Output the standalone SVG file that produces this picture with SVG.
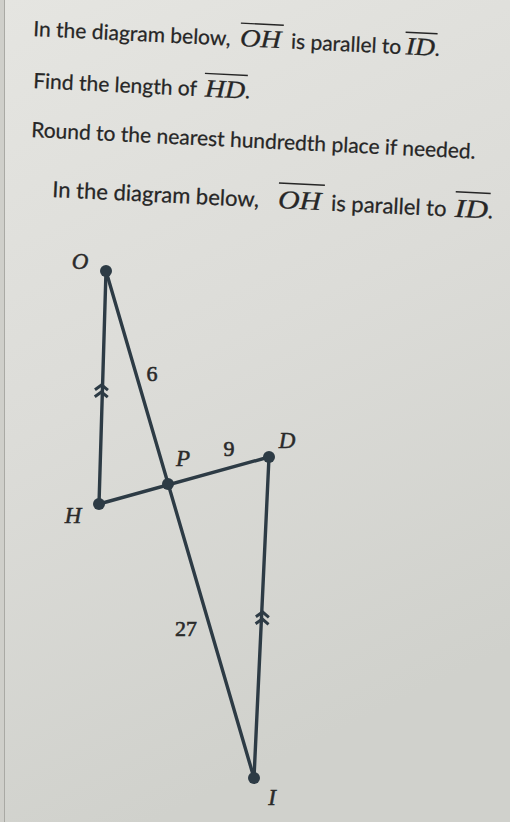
<svg xmlns="http://www.w3.org/2000/svg" width="510" height="822" viewBox="0 0 510 822">
<defs>
<linearGradient id="bg" x1="0" y1="0" x2="0.3" y2="1">
<stop offset="0" stop-color="#e5e5e1"/>
<stop offset="0.5" stop-color="#dcdcd8"/>
<stop offset="1" stop-color="#d0d1cc"/>
</linearGradient>
<style>
.t{font-family:Lato,"Open Sans",sans-serif;font-size:21px;fill:#262626;stroke:#262626;stroke-width:0.25}
.m{font-family:"Liberation Serif","DejaVu Serif",serif;font-style:italic;font-size:25px;fill:#262626;stroke:#262626;stroke-width:0.3}
.ov{stroke:#262626;stroke-width:1.4}
.seg{stroke:#2d3b45;stroke-width:3.4;fill:none;stroke-linecap:round}
.chev{stroke:#2d3b45;stroke-width:3;fill:none;stroke-linejoin:miter}
.dot{fill:#2d3b45}
.lbl{font-family:"Liberation Serif","DejaVu Serif",serif;font-style:italic;font-size:23px;fill:#2a2a2a;stroke:#2a2a2a;stroke-width:0.5;text-anchor:middle}
.num{font-family:"Liberation Serif","DejaVu Serif",serif;font-size:22px;fill:#2a2a2a;stroke:#2a2a2a;stroke-width:0.6;text-anchor:middle}
</style>
</defs>
<rect width="510" height="822" fill="url(#bg)"/>
<rect x="0" y="0" width="4" height="822" fill="#cfcfca"/>
<line x1="4.5" y1="0" x2="4.5" y2="822" stroke="#a9a9a4" stroke-width="1"/>

<g id="question" transform="rotate(2.8 33 36)">
<text class="t" x="33" y="36">In the diagram below,</text>
<text class="m" x="240" y="36" textLength="41" lengthAdjust="spacingAndGlyphs">OH</text>
<line class="ov" x1="240" y1="13" x2="283" y2="13"/>
<text class="t" x="291" y="36">is parallel to</text>
<text class="m" x="406" y="36" textLength="29" lengthAdjust="spacingAndGlyphs">ID</text>
<line class="ov" x1="405" y1="14" x2="437" y2="14"/>
<text class="t" x="435" y="36">.</text>
</g>
<g id="find" transform="rotate(2.8 33 88)">
<text class="t" x="33" y="88">Find the length of</text>
<text class="m" x="205" y="88" textLength="40" lengthAdjust="spacingAndGlyphs">HD</text>
<line class="ov" x1="204" y1="65" x2="247" y2="65"/>
<text class="t" x="245" y="88">.</text>
</g>
<g id="round" transform="rotate(2.8 31 137)">
<text class="t" x="31" y="137">Round to the nearest hundredth place if needed.</text>
</g>
<g id="caption" transform="rotate(2.8 52 197)">
<text class="t" x="52" y="197" style="font-size:22px">In the diagram below,</text>
<text class="m" x="278" y="197" style="font-size:26px" textLength="43" lengthAdjust="spacingAndGlyphs">OH</text>
<line class="ov" x1="278" y1="172" x2="324" y2="172"/>
<text class="t" x="331" y="197" style="font-size:22px">is parallel to</text>
<text class="m" x="455" y="197" style="font-size:26px" textLength="33" lengthAdjust="spacingAndGlyphs">ID</text>
<line class="ov" x1="455" y1="172" x2="490" y2="172"/>
<text class="t" x="488" y="197" style="font-size:22px">.</text>
</g>

<g id="connectors">
<line class="seg" x1="106" y1="271" x2="99" y2="504"/>
<line class="seg" x1="106" y1="271" x2="254" y2="778"/>
<line class="seg" x1="99" y1="504" x2="269" y2="457"/>
<line class="seg" x1="269" y1="457" x2="254" y2="778"/>
<polyline class="chev" points="-6.5,5 0,0 6.5,5" transform="translate(101.6 385) rotate(1.7)"/>
<polyline class="chev" points="-6.5,5 0,0 6.5,5" transform="translate(101.4 392) rotate(1.7)"/>
<polyline class="chev" points="-6.5,5 0,0 6.5,5" transform="translate(262.6 612) rotate(2.7)"/>
<polyline class="chev" points="-6.5,5 0,0 6.5,5" transform="translate(262.3 619) rotate(2.7)"/>
<text class="num" x="152" y="381">6</text>
<text class="num" x="229" y="456">9</text>
<text class="num" x="186" y="636">27</text>
</g>

<g id="O"><circle class="dot" cx="106" cy="271" r="6"/><text class="lbl" x="80" y="269">O</text></g>
<g id="H"><circle class="dot" cx="99" cy="504" r="6"/><text class="lbl" x="73" y="523">H</text></g>
<g id="P"><circle class="dot" cx="168" cy="484" r="6"/><text class="lbl" x="183" y="466">P</text></g>
<g id="D"><circle class="dot" cx="269" cy="457" r="6"/><text class="lbl" x="287" y="448">D</text></g>
<g id="I"><circle class="dot" cx="254" cy="778" r="6"/><text class="lbl" x="272" y="805">I</text></g>
</svg>
